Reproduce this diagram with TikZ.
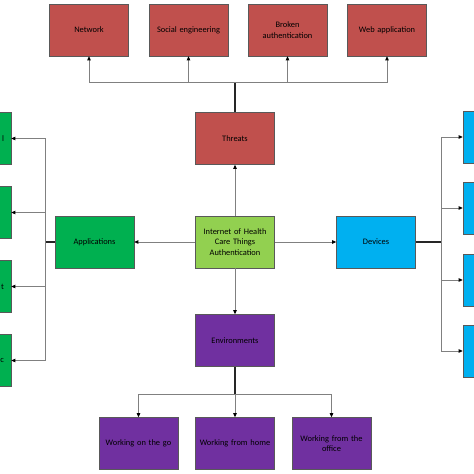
\documentclass[tikz,border=0pt]{standalone}
\usepackage{fontspec}
\setmainfont{Carlito}
\usetikzlibrary{arrows.meta}
\definecolor{threatRed}{RGB}{192, 80, 77}
\definecolor{appGreen}{RGB}{0, 176, 80}
\definecolor{coreGreen}{RGB}{146, 208, 80}
\definecolor{devBlue}{RGB}{0, 176, 240}
\definecolor{envPurple}{RGB}{112, 48, 160}
\definecolor{linkGray}{RGB}{128, 128, 128}

\begin{document}
\begin{tikzpicture}[x=1pt, y=-1pt,
    box/.style={draw=black!65, line width=0.6pt, minimum width=79pt, minimum height=52pt,
      inner sep=3.5pt, text width=72pt, align=center, font=\fontsize{8.4}{10.5}\selectfont},
    edgebox/.style={box, align=right, inner xsep=7pt, text width=65pt},
    link/.style={draw=linkGray, line width=0.8pt, -{Triangle[length=4pt, width=3.5pt, color=black]}},
    trunk/.style={draw=black!85, line width=1.3pt}]
        \useasboundingbox (0,0) rectangle (474,474);

        \node[box, fill=coreGreen] (core) at (235,242) {Internet of Health\\Care Things\\Authentication};
        \node[box, fill=threatRed] (threats) at (235,138.5) {Threats};
        \node[box, fill=appGreen] (apps) at (94.5,242) {Applications};
        \node[box, fill=devBlue] (devices) at (376,242) {Devices};
        \node[box, fill=envPurple] (env) at (235,340.5) {Environments};

        % threats
        \node[box, fill=threatRed] (net) at (89,30) {Network};
        \node[box, fill=threatRed] (social) at (188.5,30) {Social engineering};
        \node[box, fill=threatRed] (broken) at (287.5,30) {Broken\\authentication};
        \node[box, fill=threatRed] (web) at (387,30) {Web application};

        % environments
        \node[box, fill=envPurple] (go) at (138.5,443.5) {Working on the go};
        \node[box, fill=envPurple] (home) at (235,443.5) {Working from home};
        \node[box, fill=envPurple] (office) at (331.5,443.5) {Working from the\\office};

        % applications, cut by the page edge
        \node[edgebox, fill=appGreen] (appA) at (-28.5,138.5) {l};
        \node[edgebox, fill=appGreen] (appB) at (-28.5,212.5) {};
        \node[edgebox, fill=appGreen] (appC) at (-28.5,286.5) {t};
        \node[edgebox, fill=appGreen] (appD) at (-28.5,360.5) {c};

        % devices, cut by the page edge
        \node[box, fill=devBlue] (devA) at (502.5,137) {};
        \node[box, fill=devBlue] (devB) at (502.5,208) {};
        \node[box, fill=devBlue] (devC) at (502.5,280) {};
        \node[box, fill=devBlue] (devD) at (502.5,351) {};

        \coordinate (tbus) at (235,82);
        \coordinate (abus) at (45,242);
        \coordinate (dbus) at (441,242);
        \coordinate (ebus) at (235,394);

        \draw[link] (core) -- (threats);
        \draw[link] (core) -- (apps);
        \draw[link] (core) -- (devices);
        \draw[link] (core) -- (env);

        \draw[trunk] (threats.north) -- (tbus);
        \foreach \t in {net, social, broken, web}
          \draw[link] (tbus) -| (\t);

        \draw[trunk] (apps.west) -- (abus);
        \foreach \a in {appA, appB, appC, appD}
          \draw[link] (abus) |- (\a);

        \draw[trunk] (devices.east) -- (dbus);
        \foreach \d in {devA, devB, devC, devD}
          \draw[link] (dbus) |- (\d);

        \draw[trunk] (env.south) -- (ebus);
        \foreach \e in {go, home, office}
          \draw[link] (ebus) -| (\e);
      \end{tikzpicture}
\end{document}
